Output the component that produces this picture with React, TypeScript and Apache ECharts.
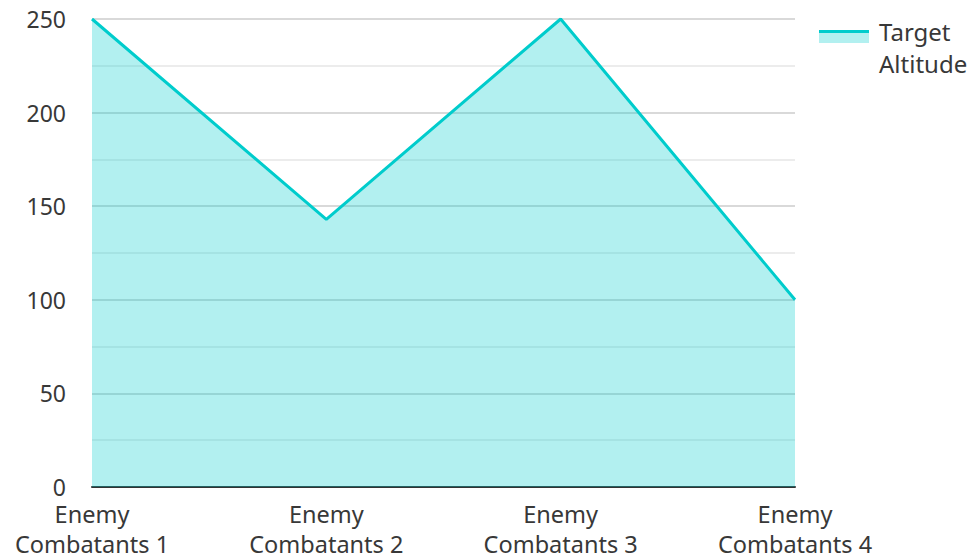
import React, { useEffect, useRef } from "react";
import * as echarts from "echarts";

const categories = ["Enemy\nCombatants 1", "Enemy\nCombatants 2", "Enemy\nCombatants 3", "Enemy\nCombatants 4"];
const altitude = [250, 143, 250, 100];
const seriesName = "Target Altitude";
const yMin = 0;
const yMax = 250;
const yInterval = 50;

export default function App() {
  const ref = useRef<HTMLDivElement>(null);
  useEffect(() => {
    if (!ref.current) return;
    const chart = echarts.init(ref.current, undefined, { renderer: "svg" });
    const font = "'Noto Sans', 'Open Sans', sans-serif";
    chart.setOption({
      animation: false,
      textStyle: { fontFamily: font },
      grid: { left: 92, right: 177, top: 19, bottom: 73, containLabel: false },
      legend: {
        data: [seriesName],
        left: 818,
        top: 10,
        orient: "vertical",
        itemWidth: 50,
        itemHeight: 14,
        itemStyle: { opacity: 0 },
        lineStyle: { opacity: 0 },
        formatter: () => "Target\nAltitude",
        textStyle: { fontSize: 24, lineHeight: 32, color: "#383838", fontFamily: font },
        selectedMode: false,
      },
      graphic: [
        { type: "rect", shape: { x: 819, y: 33, width: 50, height: 10 }, style: { fill: "rgba(0,204,204,0.3)" }, silent: true },
        { type: "line", shape: { x1: 819, y1: 31.5, x2: 869, y2: 31.5 }, style: { stroke: "#00cccc", lineWidth: 3 }, silent: true },
      ],
      xAxis: {
        type: "category",
        data: categories,
        boundaryGap: false,
        axisLine: { show: true, lineStyle: { color: "#333", width: 2 } },
        axisTick: { show: false },
        axisLabel: { fontSize: 23.5, lineHeight: 30, color: "#383838", margin: 12, fontFamily: font, interval: 0 },
        splitLine: { show: false },
      },
      yAxis: {
        type: "value",
        min: yMin,
        max: yMax,
        interval: yInterval,
        axisLine: { show: false },
        axisTick: { show: false },
        axisLabel: { fontSize: 23, lineHeight: 18, color: "#383838", margin: 26, fontFamily: font },
        splitLine: { show: true, lineStyle: { color: "#cccccc", width: 1.5 } },
        minorTick: { show: false, splitNumber: 2 },
        minorSplitLine: { show: true, lineStyle: { color: "#e6e6e6", width: 1.5 } },
      },
      series: [
        {
          name: seriesName,
          type: "line",
          data: altitude,
          symbol: "none",
          lineStyle: { color: "#00cccc", width: 3 },
          itemStyle: { color: "#00cccc" },
          areaStyle: { color: "#00cccc", opacity: 0.3 },
        },
      ],
    });
    return () => chart.dispose();
  }, []);
  return <div ref={ref} style={{ width: 972, height: 560, position: "absolute", left: 0, top: 0 }} />;
}
